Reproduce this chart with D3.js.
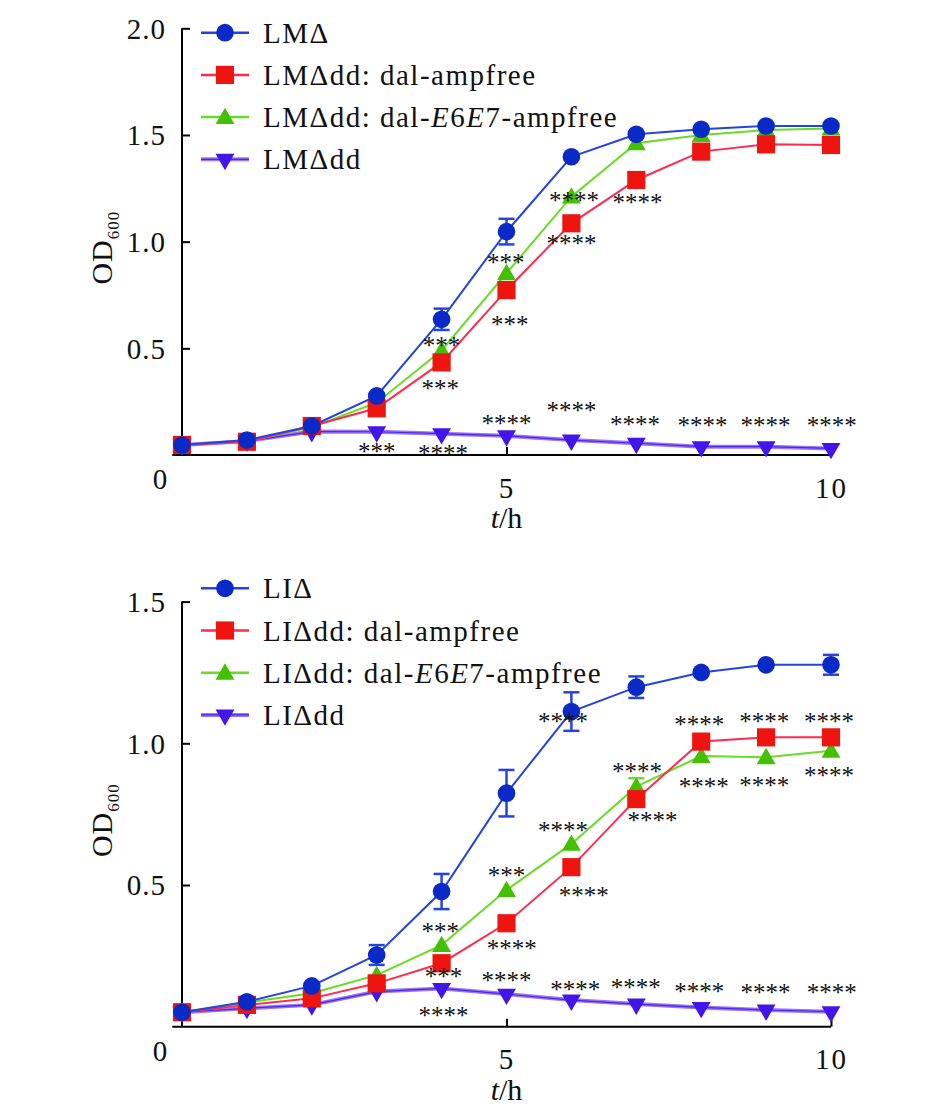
<!DOCTYPE html>
<html><head><meta charset="utf-8">
<script src="https://cdn.jsdelivr.net/npm/d3@7"></script>
<style>
html,body{margin:0;padding:0;background:#fff;}
svg{display:block;}
text{font-family:"Liberation Serif","Times New Roman",serif !important;fill:#111;}
</style></head>
<body>
<svg id="chart" width="945" height="1116" font-family="Liberation Serif"></svg>
<script>
// ---------- data ----------
const hours = [0,1,2,3,4,5,6,7,8,9,10];

// Panel A (LM)
const lmNames = ["LMΔ", "LMΔdd: dal-ampfree", "LMΔdd: dal-E6E7-ampfree", "LMΔdd"];
const lmDelta      = [0.047,0.070,0.136,0.277,0.636,1.047,1.398,1.503,1.527,1.542,1.542];
const lmDeltaErr   = [0,0,0,0,0.05,0.06,0,0,0,0,0];
const lmDalAmp     = [0.047,0.062,0.136,0.219,0.434,0.773,1.086,1.289,1.422,1.456,1.453];
const lmDalE6E7    = [0.047,0.065,0.130,0.245,0.490,0.852,1.211,1.461,1.500,1.523,1.530];
const lmDD         = [0.047,0.065,0.110,0.109,0.100,0.090,0.070,0.055,0.039,0.039,0.031];
const lmTicks = [0.5,1.0,1.5,2.0];
// significance labels: [hour, OD level, label]
const lmStars = [
  [3.0,0.031,"***"],[4.02,0.023,"****"],[4.0,0.531,"***"],[3.98,0.328,"***"],
  [5.0,0.164,"****"],[4.99,0.917,"***"],[5.05,0.628,"***"],
  [6.04,1.211,"****"],[6.0,1.008,"****"],[7.02,1.20,"****"],
  [6.0,0.226,"****"],[6.98,0.161,"****"],[8.02,0.153,"****"],[8.99,0.153,"****"],[10.01,0.153,"****"]
];

// Panel B (LI)
const liNames = ["LIΔ", "LIΔdd: dal-ampfree", "LIΔdd: dal-E6E7-ampfree", "LIΔdd"];
const liDelta      = [0.051,0.088,0.144,0.253,0.477,0.824,1.112,1.198,1.250,1.277,1.277];
const liDeltaErr   = [0,0,0,0.035,0.062,0.082,0.068,0.038,0,0,0.035];
const liDalAmp     = [0.051,0.077,0.100,0.153,0.224,0.365,0.563,0.803,1.006,1.021,1.021];
const liDalE6E7    = [0.051,0.085,0.118,0.182,0.288,0.482,0.645,0.847,0.955,0.951,0.974];
const liDalE6E7Err = [0,0,0,0,0,0,0,0.03,0,0,0];
const liDD         = [0.051,0.065,0.077,0.124,0.135,0.115,0.094,0.080,0.068,0.059,0.053];
const liTicks = [0.5,1.0,1.5];
const liStars = [
  [3.98,0.347,"***"],[4.03,0.191,"***"],[4.03,0.053,"****"],
  [5.0,0.547,"***"],[5.08,0.288,"****"],[5.0,0.176,"****"],
  [5.87,0.706,"****"],[6.19,0.477,"****"],[7.01,0.912,"****"],[7.25,0.741,"****"],
  [7.97,1.08,"****"],[8.97,1.089,"****"],[9.97,1.089,"****"],
  [8.04,0.861,"****"],[8.97,0.864,"****"],[9.97,0.899,"****"],
  [6.06,0.144,"****"],[6.99,0.150,"****"],[7.97,0.136,"****"],[8.99,0.132,"****"],[10.01,0.132,"****"],
  [5.87,1.089,"****"]
];

const xTicks = [5,10];

// ---------- styles ----------
const styles = [
  {line:"#2444e0", lw:2, fill:"#0a2ac8", shape:"circle"},
  {line:"#ff2a4e", lw:2, fill:"#ee1410", shape:"square"},
  {line:"#66dd22", lw:2, fill:"#44c000", shape:"up"},
  {line:"#9c74f2", lw:4, fill:"#4216e8", shape:"down", core:"#4a26f0"}
];

const svg = d3.select("#chart");

function symbolPath(shape){
  if(shape==="circle") return d3.symbol(d3.symbolCircle, 245)();
  if(shape==="square") return d3.symbol(d3.symbolSquare, 330)();
  return d3.symbol(d3.symbolTriangle, 155)();
}
function addMarker(g, shape, fill, x, y){
  const p = g.append("path").attr("d", symbolPath(shape)).attr("fill", fill);
  if(shape==="down") p.attr("transform",`translate(${x},${y}) rotate(180)`);
  else if(shape==="up") p.attr("transform",`translate(${x},${y+1.5})`);
  else p.attr("transform",`translate(${x},${y})`);
}

function panel(opt){
  const g = svg.append("g");
  const x = d3.scaleLinear().domain([0,10]).range([182,831]);
  const y = d3.scaleLinear().domain([0,opt.ymax]).range([opt.y0, opt.ytop]);

  // axes
  const yAxis = d3.axisLeft(y).tickValues(opt.ticks).tickSize(-8).tickPadding(16)
     .tickFormat(d3.format(".1f"));
  const ya = g.append("g").attr("transform","translate(182,0)").call(yAxis);
  ya.attr("font-family",null).attr("font-size",null);
  ya.select(".domain").remove();
  ya.append("line").attr("x1",0).attr("x2",0).attr("y1",y(0)).attr("y2",y(opt.ymax))
    .attr("stroke","#000").attr("stroke-width",2);
  ya.selectAll(".tick line").attr("stroke","#000").attr("stroke-width",2);
  ya.selectAll(".tick text").attr("font-size",29).attr("fill","#111")
    .attr("letter-spacing","1px").attr("dy","0.34em");

  const xAxis = d3.axisBottom(x).tickValues(xTicks).tickSize(-8).tickPadding(22)
     .tickFormat(d3.format("d"));
  const xa = g.append("g").attr("transform",`translate(0,${y(0)})`).call(xAxis);
  xa.attr("font-family",null).attr("font-size",null);
  xa.select(".domain").remove();
  xa.append("line").attr("x1",x(-0.15)).attr("x2",x(10)).attr("y1",0).attr("y2",0)
    .attr("stroke","#000").attr("stroke-width",2);
  xa.selectAll(".tick line").attr("stroke","#000").attr("stroke-width",2);
  xa.selectAll(".tick text").attr("font-size",29).attr("fill","#111")
    .attr("letter-spacing","2px");
  // origin label
  g.append("text").attr("x",x(0)-22).attr("y",y(0)+34).attr("text-anchor","middle")
    .attr("font-size",29).text("0");

  // axis titles
  g.append("text").attr("x",x(5)).attr("y",y(0)+73).attr("text-anchor","middle")
    .attr("font-size",30)
    .call(t=>{t.append("tspan").attr("font-style","italic").text("t");
              t.append("tspan").text("/h");});
  const ymid = (y(0)+y(opt.ymax))/2 + 6;
  g.append("text").attr("transform",`translate(112,${ymid}) rotate(-90)`)
    .attr("text-anchor","middle").attr("font-size",30).attr("letter-spacing","1px")
    .call(t=>{t.append("tspan").text("OD");
              t.append("tspan").attr("font-size",17).attr("dy","7").text("600");});

  // series lines
  const line = d3.line().x((d,i)=>x(hours[i])).y(d=>y(d));
  const order = [3,2,1,0];
  order.forEach(k=>{
    const s = styles[k];
    g.append("path").attr("d", line(opt.series[k])).attr("fill","none")
      .attr("stroke", s.line).attr("stroke-width", s.lw);
    if(s.core) g.append("path").attr("d", line(opt.series[k])).attr("fill","none")
      .attr("stroke", s.core).attr("stroke-width", 1.2);
  });
  // error bars
  order.forEach(k=>{
    const err = opt.errs[k]; if(!err) return;
    const s = styles[k];
    opt.series[k].forEach((v,i)=>{
      if(!err[i]) return;
      const cx = x(hours[i]);
      const eg = g.append("g").attr("stroke", s.line).attr("stroke-width",2.5);
      eg.append("line").attr("x1",cx).attr("x2",cx).attr("y1",y(v-err[i])).attr("y2",y(v+err[i]));
      eg.append("line").attr("x1",cx-8).attr("x2",cx+8).attr("y1",y(v-err[i])).attr("y2",y(v-err[i]));
      eg.append("line").attr("x1",cx-8).attr("x2",cx+8).attr("y1",y(v+err[i])).attr("y2",y(v+err[i]));
    });
  });
  // markers
  order.forEach(k=>{
    const s = styles[k];
    opt.series[k].forEach((v,i)=> addMarker(g, s.shape, s.fill, x(hours[i]), y(v)));
  });

  // stars
  opt.stars.forEach(([h,v,lab])=>{
    g.append("text").attr("x",x(h)).attr("y",y(v)+12).attr("text-anchor","middle")
      .attr("font-size",25).attr("fill","#1a1a1a").text(lab);
  });

  // legend
  opt.names.forEach((name,k)=>{
    const s = styles[k];
    const ly = opt.legY + k*42.2;
    g.append("line").attr("x1",201).attr("x2",249).attr("y1",ly).attr("y2",ly)
      .attr("stroke",s.line).attr("stroke-width", k===3?4:2.5);
    if(s.core) g.append("line").attr("x1",201).attr("x2",249).attr("y1",ly).attr("y2",ly)
      .attr("stroke",s.core).attr("stroke-width",1.2);
    addMarker(g, s.shape, s.fill, 225, ly);
    const t = g.append("text").attr("x",263).attr("y",ly+10).attr("font-size",29)
      .attr("letter-spacing","1.5px");
    const parts = name.split("E6E7");
    if(parts.length===2){
      t.append("tspan").text(parts[0]);
      t.append("tspan").attr("font-style","italic").text("E");
      t.append("tspan").text("6");
      t.append("tspan").attr("font-style","italic").text("E");
      t.append("tspan").text("7");
      t.append("tspan").text(parts[1]);
    } else t.text(name);
  });
}

panel({ymax:2, y0:455, ytop:28.3, ticks:lmTicks,
  series:[lmDelta,lmDalAmp,lmDalE6E7,lmDD], errs:[lmDeltaErr,null,null,null],
  stars:lmStars, names:lmNames, legY:32.7});
panel({ymax:1.5, y0:1026.7, ytop:601.6, ticks:liTicks,
  series:[liDelta,liDalAmp,liDalE6E7,liDD], errs:[liDeltaErr,null,liDalE6E7Err,null],
  stars:liStars, names:liNames, legY:588.3});
</script>
</body></html>
